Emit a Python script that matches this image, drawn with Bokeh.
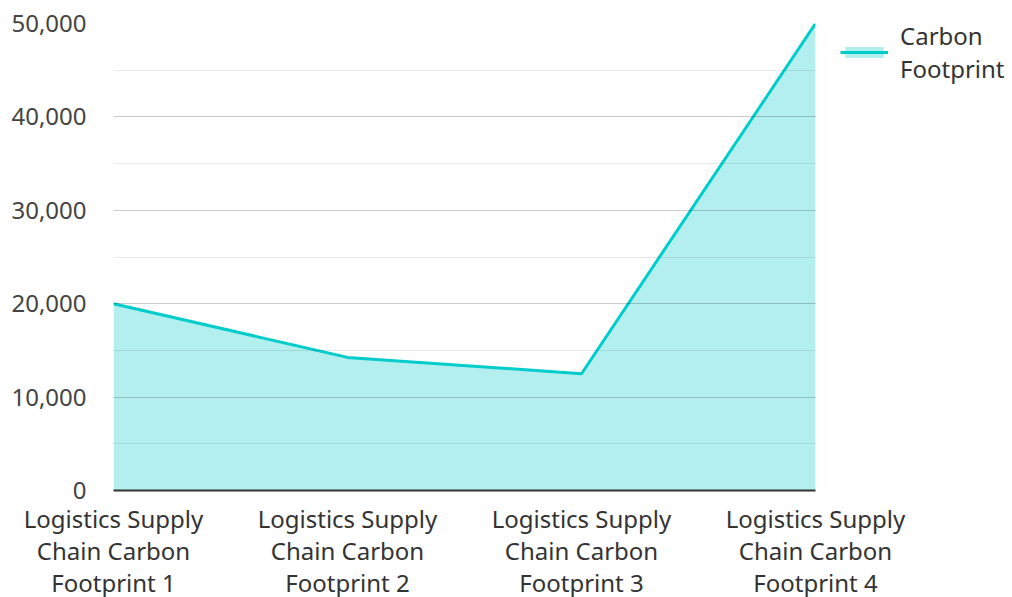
from bokeh.plotting import figure
from bokeh.models import FixedTicker, Range1d, Legend, LegendItem, ColumnDataSource
from bokeh.embed import file_html
from bokeh.resources import INLINE

categories = ["Logistics Supply\nChain Carbon\nFootprint 1",
              "Logistics Supply\nChain Carbon\nFootprint 2",
              "Logistics Supply\nChain Carbon\nFootprint 3",
              "Logistics Supply\nChain Carbon\nFootprint 4"]
values = [20000, 14250, 12500, 50000]
series_name = "Carbon\nFootprint"
y_ticks = [0, 10000, 20000, 30000, 40000, 50000]
y_minor = [5000, 15000, 25000, 35000, 45000]
y_tick_labels = ["0", "10,000", "20,000", "30,000", "40,000", "50,000"]

FONT = "Noto Sans"
FS = "24px"
xs = list(range(len(categories)))
src = ColumnDataSource(dict(x=xs, y=values, y0=[0] * len(xs)))

p = figure(frame_width=702, frame_height=467, output_backend="svg", toolbar_location=None,
           x_range=Range1d(0, len(categories) - 1), y_range=Range1d(0, 50000),
           min_border_left=113, min_border_top=23, min_border_bottom=0, min_border_right=0)
p.outline_line_color = None
p.background_fill_color = "white"

area = p.varea(x="x", y1="y0", y2="y", source=src, fill_color="#b2efee", fill_alpha=1.0)
line = p.line(x="x", y="y", source=src, line_color="#00cccc", line_width=3)

p.yaxis.ticker = FixedTicker(ticks=y_ticks, minor_ticks=y_minor)
p.yaxis.major_label_overrides = {t: l for t, l in zip(y_ticks, y_tick_labels)}
p.yaxis.axis_line_color = None
p.yaxis.major_tick_line_color = None
p.yaxis.minor_tick_line_color = None
p.yaxis.major_label_text_font = FONT
p.yaxis.major_label_text_font_size = FS
p.yaxis.major_label_text_color = "#444444"
p.yaxis.major_label_standoff = 21

p.xaxis.ticker = FixedTicker(ticks=xs)
p.xaxis.major_label_overrides = {i: c for i, c in zip(xs, categories)}
p.xaxis.axis_line_color = "#333333"
p.xaxis.axis_line_width = 2
p.xaxis.major_tick_line_color = None
p.xaxis.minor_tick_line_color = None
p.xaxis.major_label_text_font = FONT
p.xaxis.major_label_text_font_size = FS
p.xaxis.major_label_text_color = "#333333"
p.xaxis.major_label_text_line_height = 0.97
p.xaxis.major_label_standoff = 5

p.xgrid.grid_line_color = None
p.ygrid.ticker = FixedTicker(ticks=y_ticks[1:], minor_ticks=y_minor)
p.ygrid.grid_line_color = "black"
p.ygrid.grid_line_alpha = 0.2
p.ygrid.minor_grid_line_color = "black"
p.ygrid.minor_grid_line_alpha = 0.09
p.ygrid.level = "overlay"

legend = Legend(items=[LegendItem(label=series_name, renderers=[area, line])],
                location=(25, 405), border_line_color=None, background_fill_alpha=0,
                label_text_font=FONT, label_text_font_size=FS,
                label_text_color="#333333", label_text_line_height=0.97,
                glyph_width=48, glyph_height=14,
                padding=0, margin=0, label_standoff=12, spacing=0)
p.add_layout(legend, "right")

open("out.html", "w").write(file_html(p, INLINE))
